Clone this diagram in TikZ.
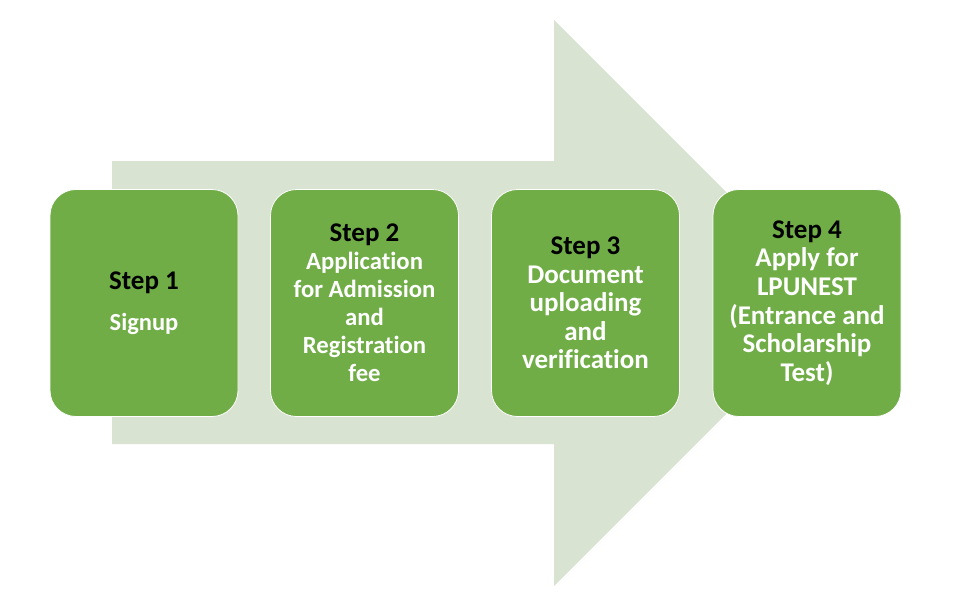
\documentclass[tikz,border=0pt]{standalone}
\usepackage{fontspec}
\setmainfont{Carlito}[Ligatures=NoCommon]
\definecolor{boxgreen}{HTML}{70AD47}
\definecolor{arrowgreen}{HTML}{D8E3D1}
\newcommand{\steplabel}[1]{{\fontsize{27pt}{28.6pt}\selectfont\textcolor{black}{#1}}}
\begin{document}
\begin{tikzpicture}[x=1pt,y=-1pt,
  stepbox/.style={fill=boxgreen, draw=white, line width=0.8pt, rounded corners=26pt,
    minimum width=188pt, minimum height=227pt, align=center, text=white,
    font=\fontsize{27pt}{28.6pt}\selectfont\bfseries, inner sep=0pt},
  arrowshape/.style={fill=arrowgreen}]
\useasboundingbox (0,0) rectangle (953,603);
\fill[arrowshape] (112,161) -- (554,161) -- (554,20) -- (837,303) -- (554,586) -- (554,444) -- (112,444) -- cycle;
\node[stepbox, font=\fontsize{24.5pt}{28.6pt}\selectfont\bfseries] (s1) at (144,303) {\steplabel{Step 1}\\[12pt]Signup};
\node[stepbox, font=\fontsize{24.7pt}{28pt}\selectfont\bfseries] (s2) at (364.5,303) {\steplabel{Step 2}\\Application\\for Admission\\and\\Registration\\fee};
\node[stepbox] (s3) at (585.5,303) {\steplabel{Step 3}\\Document\\uploading\\and\\verification};
\node[stepbox] (s4) at (807,303) {\steplabel{Step 4}\\Apply for\\LPUNEST\\(Entrance and\\Scholarship\\Test)};
\end{tikzpicture}
\end{document}
